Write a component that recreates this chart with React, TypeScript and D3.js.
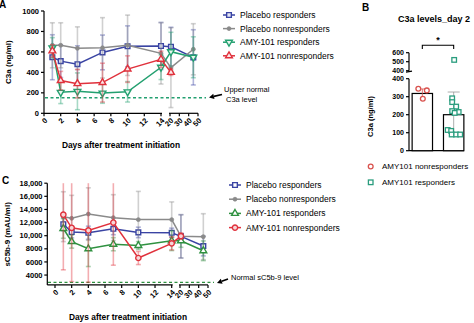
import React from "react";
import * as d3 from "d3";

const FONT = "'Liberation Sans', Arial, Helvetica, sans-serif";

// ---------- Panel A data (C3a, ng/ml) ----------
const daysA = [1, 2, 4, 7, 10, 14, 21, 45];
const aPlaceboResp = [548, 510, 480, 595, 655, 658, 651, 547];
const aPlaceboRespSD = [220, 160, 180, 170, 200, 230, 190, 270];
const aPlaceboNon = [665, 665, 635, 640, 665, 586, 446, 626];
const aPlaceboNonSD = [220, 220, 210, 295, 295, 300, 390, 250];
const aAmyResp = [640, 205, 215, 198, 210, 450, 602, 548];
const aAmyRespSD = [100, 110, 180, 100, 100, 120, 190, 200];
const aAmyNon = [610, 320, 290, 300, 432, 528, 400];
const aAmyNonSD = [60, 90, 140, 190, 130, 80, 30];
const aTicksY = [0, 200, 400, 600, 800, 1000];
const aTicksX1 = [0, 2, 4, 6, 8, 10, 12, 14];
const aTicksX2 = [20, 30, 40, 50];
const aNormal = 152;

// ---------- Panel B data ----------
const bGroups = ["AMY101 nonresponders", "AMY101 responders"];
const bMeans = [318, 200];
const bSD = [25, 126];
const bNonPts = [344, 335, 289];
const bRespPts = [520, 291, 270, 245, 220, 215, 210, 115, 110, 90, 90, 90];
const bTicksLow = [0, 100, 200, 300, 400];
const bTicksHigh = [400, 500, 600];

// ---------- Panel C data (sC5b-9, mAU/ml) ----------
const daysC = [1, 2, 4, 7, 10, 14, 21, 45];
const cPlaceboResp = [11750, 10560, 10450, 11050, 10500, 10450, 9900, 8420];
const cPlaceboRespSD = [1000, 900, 1000, 900, 800, 700, 3300, 1500];
const cPlaceboNon = [12900, 12650, 13300, 12750, 12450, 12450, 9900, 9850];
const cPlaceboNonSD = [3800, 3500, 4000, 3500, 4300, 2700, 3300, 3500];
const cAmyResp = [11100, 9100, 8000, 8700, 8500, 9230, 9230, 7700];
const cAmyRespSD = [1500, 1000, 2700, 1000, 600, 1500, 1000, 1500];
const cAmyNon = [13200, 11200, 10800, 12000, 6600, 8830, 9940];
const cAmyNonSD = [8400, 8200, 7900, 6500, 1000, 1000, 500];
const cTicksY = [4000, 6000, 8000, 10000, 12000, 14000, 16000, 18000];
const cNormal = 2900;

const legendNames = ["Placebo responders", "Placebo nonresponders", "AMY-101 responders", "AMY-101 nonresponders"];

// layout-only jitter for panel B dots
const bNonJitter = [-4, 4.5, 0.5];
const bRespJitter = [0.5, -1.5, -1.5, 2.5, -1.5, 5, 1, -6, -2.5, -2, 2.5, 6.5];

const BLUE = "#3a44a3";
const GREY = "#8a8a8a";
const GREEN_A = "#23a070";
const GREEN_C = "#2f9140";
const RED = "#e0313c";

type Shape = "square" | "circle" | "tri" | "triDown" | "dot";

function Marker({ x, y, shape, color, fill }: { x: number; y: number; shape: Shape; color: string; fill?: string }) {
  let path = "";
  let rot = 0;
  if (shape === "square") path = d3.symbol(d3.symbolSquare, 22)()!;
  else if (shape === "circle") path = d3.symbol(d3.symbolCircle, 22)()!;
  else if (shape === "tri") path = d3.symbol(d3.symbolTriangle, 20)()!;
  else if (shape === "triDown") { path = d3.symbol(d3.symbolTriangle, 20)()!; rot = 180; }
  else path = d3.symbol(d3.symbolCircle, 12)()!;
  return (
    <path
      d={path}
      transform={`translate(${x},${y}) rotate(${rot})`}
      fill={shape === "dot" ? color : fill || "white"}
      stroke={color}
      strokeWidth={shape === "dot" ? 0.8 : 1.4}
    />
  );
}

type Series = { vals: number[]; sd: number[]; color: string; shape: Shape; fill?: string };

function SeriesPlot({ s, days, xf, yf, yMin, yMax }: { s: Series; days: number[]; xf: (d: number) => number; yf: d3.ScaleLinear<number, number>; yMin: number; yMax: number }) {
  const pts = s.vals.map((v, i) => ({ d: days[i], v, sd: s.sd[i] }));
  const line = d3.line<{ d: number; v: number }>().x((p) => xf(p.d)).y((p) => yf(p.v));
  return (
    <g>
      {pts.map((p, i) => {
        const top = yf(Math.min(yMax, p.v + p.sd));
        const bot = yf(Math.max(yMin, p.v - p.sd));
        const x = xf(p.d);
        return (
          <g key={i} stroke={s.color} strokeOpacity={0.4} strokeWidth={1.6}>
            <line x1={x} x2={x} y1={top} y2={bot} />
            {p.v + p.sd <= yMax && <line x1={x - 2.5} x2={x + 2.5} y1={top} y2={top} />}
            {p.v - p.sd >= yMin && <line x1={x - 2.5} x2={x + 2.5} y1={bot} y2={bot} />}
          </g>
        );
      })}
      <path d={line(pts)!} fill="none" stroke={s.color} strokeWidth={1.5} />
      {pts.map((p, i) => (
        <Marker key={i} x={xf(p.d)} y={yf(p.v)} shape={s.shape} color={s.color} fill={s.fill} />
      ))}
    </g>
  );
}

function RotLabel({ x, y, text }: { x: number; y: number; text: string }) {
  return (
    <text transform={`translate(${x + 2},${y + 6}) rotate(-45)`} textAnchor="end" fontSize={7.5} fontWeight="bold" dy="0.35em">
      {text}
    </text>
  );
}

function Legend({ x, y0, dy, series }: { x: number; y0: number; dy: number; series: Series[] }) {
  return (
    <g>
      {series.map((s, i) => {
        const y = y0 + i * dy;
        return (
          <g key={i}>
            <line x1={x} x2={x + 12} y1={y} y2={y} stroke={s.color} strokeWidth={1.5} />
            <Marker x={x + 6} y={y} shape={s.shape} color={s.color} fill={s.fill} />
            <text x={x + 17} y={y} dy="0.35em" fontSize={8.5}>{legendNames[i]}</text>
          </g>
        );
      })}
    </g>
  );
}

function Arrow({ x1, y1, x2, y2 }: { x1: number; y1: number; x2: number; y2: number }) {
  const ang = Math.atan2(y2 - y1, x2 - x1);
  const L = 5, W = 2.6;
  const bx = x2 - L * Math.cos(ang), by = y2 - L * Math.sin(ang);
  const px = -Math.sin(ang) * W, py = Math.cos(ang) * W;
  return (
    <g>
      <line x1={x1} y1={y1} x2={bx} y2={by} stroke="black" strokeWidth={1.6} />
      <path d={`M${x2},${y2}L${bx + px},${by + py}L${bx - px},${by - py}Z`} fill="black" />
    </g>
  );
}

export default function App() {
  // ---------- Panel A scales ----------
  const yA = d3.scaleLinear().domain([0, 1000]).range([113.3, 11]);
  const xA1 = d3.scaleLinear().domain([0, 14]).range([44, 161]);
  const xA2 = d3.scaleLinear().domain([20, 50]).range([170, 198]);
  const xA = (d: number) => (d <= 14 ? xA1(d) : xA2(d));
  const seriesA: Series[] = [
    { vals: aPlaceboResp, sd: aPlaceboRespSD, color: BLUE, shape: "square", fill: "#e4e6f6" },
    { vals: aPlaceboNon, sd: aPlaceboNonSD, color: GREY, shape: "dot" },
    { vals: aAmyResp, sd: aAmyRespSD, color: GREEN_A, shape: "triDown", fill: "#e6f6ef" },
    { vals: aAmyNon, sd: aAmyNonSD, color: RED, shape: "tri", fill: "#fbe6e7" },
  ];

  // ---------- Panel B scales ----------
  const yBLow = d3.scaleLinear().domain([0, 400]).range([150.7, 78.7]);
  const yBHigh = d3.scaleLinear().domain([400, 600]).range([70.7, 52.7]);
  const yB = (v: number) => (v <= 400 ? yBLow(v) : yBHigh(v));
  const xB = d3.scaleBand().domain(bGroups).range([409, 467]).paddingInner(0.35).paddingOuter(0.1);
  const bw = xB.bandwidth();

  // ---------- Panel C scales ----------
  const yC = d3.scaleLinear().domain([2500, 18000]).range([284.9, 183.2]);
  const xC1 = d3.scaleLinear().domain([0, 14]).range([55, 171.7]);
  const xC2 = d3.scaleLinear().domain([20, 50]).range([180, 208]);
  const xC = (d: number) => (d <= 14 ? xC1(d) : xC2(d));
  const seriesC: Series[] = [
    { vals: cPlaceboResp, sd: cPlaceboRespSD, color: BLUE, shape: "square", fill: "#ffffff" },
    { vals: cPlaceboNon, sd: cPlaceboNonSD, color: GREY, shape: "dot" },
    { vals: cAmyResp, sd: cAmyRespSD, color: GREEN_C, shape: "tri", fill: "#ffffff" },
    { vals: cAmyNon, sd: cAmyNonSD, color: RED, shape: "circle", fill: "#f6d6d8" },
  ];
  const fmtC = (v: number) => (v >= 10000 ? d3.format(",")(v) : String(v));

  return (
    <svg width={474} height={323} style={{ position: "absolute", left: 0, top: 0, background: "white" }} fontFamily={FONT}>
      <rect width={474} height={323} fill="white" />
      {/* ================= Panel A ================= */}
      <text x={-1} y={8} fontSize={10} fontWeight="bold">A</text>
      {/* y axis */}
      <line x1={44} x2={44} y1={yA(1000)} y2={yA(0)} stroke="black" strokeWidth={1.2} />
      {aTicksY.map((t) => (
        <g key={t}>
          <line x1={41} x2={44} y1={yA(t)} y2={yA(t)} stroke="black" strokeWidth={1.2} />
          <text x={39} y={yA(t)} dy="0.35em" textAnchor="end" fontSize={7.5} fontWeight="bold">{t}</text>
        </g>
      ))}
      <text transform={`translate(11,${yA(500)}) rotate(-90)`} textAnchor="middle" fontSize={8} fontWeight="bold">C3a (ng/ml)</text>
      {/* x axis */}
      <line x1={44} x2={xA1(14) + 1} y1={yA(0)} y2={yA(0)} stroke="black" strokeWidth={1.2} />
      <line x1={xA2(20) - 1} x2={xA2(50)} y1={yA(0)} y2={yA(0)} stroke="black" strokeWidth={1.2} />
      {aTicksX1.map((t) => (
        <g key={t}>
          <line x1={xA1(t)} x2={xA1(t)} y1={yA(0)} y2={yA(0) + 3} stroke="black" strokeWidth={1.2} />
          <RotLabel x={xA1(t)} y={yA(0)} text={String(t)} />
        </g>
      ))}
      {aTicksX2.map((t) => (
        <g key={t}>
          <line x1={xA2(t)} x2={xA2(t)} y1={yA(0)} y2={yA(0) + 3} stroke="black" strokeWidth={1.2} />
          <RotLabel x={xA2(t)} y={yA(0)} text={String(t)} />
        </g>
      ))}
      <text x={121} y={148} textAnchor="middle" fontSize={8.4} fontWeight="bold">Days after treatment initiation</text>
      {/* normal line */}
      <line x1={45} x2={206} y1={yA(aNormal)} y2={yA(aNormal)} stroke={GREEN_A} strokeWidth={1.3} strokeDasharray="3,2.5" />
      <Arrow x1={222} y1={94.5} x2={209} y2={97.5} />
      <text x={224} y={92} fontSize={7.5}>Upper normal</text>
      <text x={226} y={101.5} fontSize={7.5}>C3a level</text>
      {seriesA.map((s, i) => (
        <SeriesPlot key={i} s={s} days={daysA} xf={xA} yf={yA} yMin={0} yMax={1000} />
      ))}
      <Legend x={223} y0={15} dy={13.6} series={seriesA} />

      {/* ================= Panel B ================= */}
      <text x={362} y={11} fontSize={10} fontWeight="bold">B</text>
      <text x={434} y={22} textAnchor="middle" fontSize={9} fontWeight="bold">C3a levels_day 2</text>
      <line x1={409} x2={409} y1={yBHigh(600)} y2={yBHigh(400)} stroke="black" strokeWidth={1.2} />
      <line x1={409} x2={409} y1={yBLow(400)} y2={yBLow(0)} stroke="black" strokeWidth={1.2} />
      <line x1={406} x2={412} y1={yBHigh(400) + 1.5} y2={yBHigh(400) + 0.5} stroke="black" strokeWidth={1.2} />
      {bTicksHigh.map((t) => (
        <g key={"h" + t}>
          <line x1={406} x2={409} y1={yBHigh(t)} y2={yBHigh(t)} stroke="black" strokeWidth={1.2} />
          <text x={404} y={yBHigh(t)} dy="0.35em" textAnchor="end" fontSize={7} fontWeight="bold">{t}</text>
        </g>
      ))}
      {bTicksLow.map((t) => (
        <g key={"l" + t}>
          <line x1={406} x2={409} y1={yBLow(t)} y2={yBLow(t)} stroke="black" strokeWidth={1.2} />
          <text x={404} y={yBLow(t)} dy="0.35em" textAnchor="end" fontSize={7} fontWeight="bold">{t}</text>
        </g>
      ))}
      <line x1={409} x2={464} y1={yBLow(0)} y2={yBLow(0)} stroke="black" strokeWidth={1.2} />
      <text transform={`translate(373,${yBLow(190)}) rotate(-90)`} textAnchor="middle" fontSize={7.5} fontWeight="bold">C3a (ng/ml)</text>
      {bGroups.map((g, i) => {
        const x0 = xB(g)!;
        const cx = x0 + bw / 2;
        const col = i === 0 ? "#d9534f" : "#999";
        return (
          <g key={g}>
            <rect x={x0} y={yB(bMeans[i])} width={bw} height={yBLow(0) - yB(bMeans[i])} fill="white" stroke="black" strokeWidth={1.2} />
            <line x1={cx} x2={cx} y1={yB(bMeans[i] + bSD[i])} y2={yB(Math.max(0, bMeans[i] - bSD[i]))} stroke={col} strokeWidth={1} strokeOpacity={0.8} />
            <line x1={cx - 6} x2={cx + 6} y1={yB(bMeans[i] + bSD[i])} y2={yB(bMeans[i] + bSD[i])} stroke={col} strokeWidth={1} strokeOpacity={0.8} />
          </g>
        );
      })}
      {bNonPts.map((v, i) => {
        const cx = xB(bGroups[0])! + bw / 2 + bNonJitter[i];
        return <circle key={i} cx={cx} cy={yB(v)} r={2.4} fill="white" stroke="#d9534f" strokeWidth={1.3} />;
      })}
      {bRespPts.map((v, i) => {
        const cx = xB(bGroups[1])! + bw / 2 + bRespJitter[i];
        return <rect key={i} x={cx - 2.3} y={yB(v) - 2.3} width={4.6} height={4.6} fill="white" stroke="#2a9d7e" strokeWidth={1.3} />;
      })}
      <polyline
        points={`${xB(bGroups[0])! + bw / 2},49 ${xB(bGroups[0])! + bw / 2},45.3 ${xB(bGroups[1])! + bw / 2},45.3 ${xB(bGroups[1])! + bw / 2},49`}
        fill="none"
        stroke="black"
        strokeWidth={1.1}
      />
      <text x={(xB(bGroups[0])! + xB(bGroups[1])! + bw) / 2} y={43} textAnchor="middle" fontSize={9} fontWeight="bold">*</text>
      <circle cx={370.7} cy={166.5} r={2.4} fill="white" stroke="#d9534f" strokeWidth={1.3} />
      <text x={382} y={166.5} dy="0.35em" fontSize={8}>{bGroups[0]}</text>
      <rect x={368.4} y={180} width={4.6} height={4.6} fill="white" stroke="#2a9d7e" strokeWidth={1.3} />
      <text x={382} y={182.3} dy="0.35em" fontSize={8}>{bGroups[1]}</text>

      {/* ================= Panel C ================= */}
      <text x={2} y={184} fontSize={10} fontWeight="bold">C</text>
      <line x1={47.3} x2={47.3} y1={yC(18000)} y2={yC(2500)} stroke="black" strokeWidth={1.2} />
      {cTicksY.map((t) => (
        <g key={t}>
          <line x1={44.3} x2={47.3} y1={yC(t)} y2={yC(t)} stroke="black" strokeWidth={1.2} />
          <text x={42.5} y={yC(t)} dy="0.35em" textAnchor="end" fontSize={7.5} fontWeight="bold">{fmtC(t)}</text>
        </g>
      ))}
      <text transform={`translate(10,${yC(10200)}) rotate(-90)`} textAnchor="middle" fontSize={8} fontWeight="bold">sC5b-9 (mAU/ml)</text>
      <line x1={47.3} x2={xC1(14) + 1} y1={yC(2500)} y2={yC(2500)} stroke="black" strokeWidth={1.2} />
      <line x1={xC2(20) - 1} x2={xC2(50)} y1={yC(2500)} y2={yC(2500)} stroke="black" strokeWidth={1.2} />
      {aTicksX1.map((t) => (
        <g key={t}>
          <line x1={xC1(t)} x2={xC1(t)} y1={yC(2500)} y2={yC(2500) + 3} stroke="black" strokeWidth={1.2} />
          <RotLabel x={xC1(t)} y={yC(2500)} text={String(t)} />
        </g>
      ))}
      {aTicksX2.map((t) => (
        <g key={t}>
          <line x1={xC2(t)} x2={xC2(t)} y1={yC(2500)} y2={yC(2500) + 3} stroke="black" strokeWidth={1.2} />
          <RotLabel x={xC2(t)} y={yC(2500)} text={String(t)} />
        </g>
      ))}
      <text x={128} y={320} textAnchor="middle" fontSize={8.4} fontWeight="bold">Days after treatment initiation</text>
      <line x1={48} x2={214} y1={yC(cNormal)} y2={yC(cNormal)} stroke={GREEN_C} strokeWidth={1.3} strokeDasharray="3,2.5" />
      <Arrow x1={228} y1={279} x2={217} y2={283} />
      <text x={231} y={279.5} fontSize={7.5}>Normal sC5b-9 level</text>
      {seriesC.map((s, i) => (
        <SeriesPlot key={i} s={s} days={daysC} xf={xC} yf={yC} yMin={2500} yMax={18000} />
      ))}
      <Legend x={229} y0={185} dy={14.2} series={seriesC} />
    </svg>
  );
}
